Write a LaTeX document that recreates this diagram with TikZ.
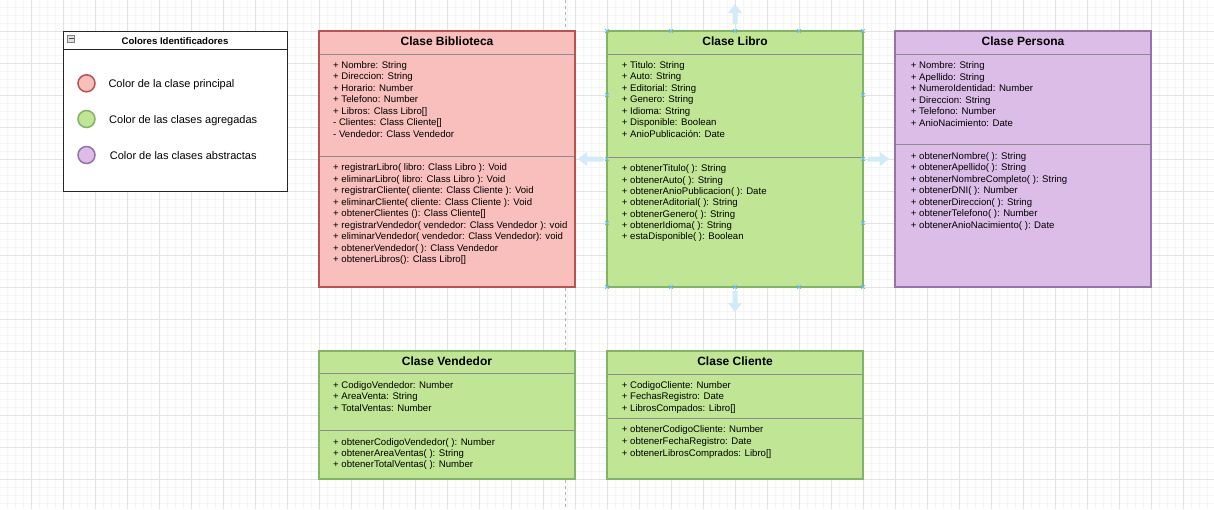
\documentclass[tikz,border=0pt]{standalone}
\usepackage{fontspec}
\setmainfont{Liberation Sans}
\definecolor{redF}{HTML}{F8BFBC}
\definecolor{redS}{HTML}{B85450}
\definecolor{grnF}{HTML}{C0E594}
\definecolor{grnS}{HTML}{82B366}
\definecolor{purF}{HTML}{DCBDE8}
\definecolor{purS}{HTML}{9673A6}
\definecolor{gridMaj}{HTML}{E3E3E3}
\definecolor{gridMin}{HTML}{F5F5F5}
\definecolor{sepC}{HTML}{8C8C8C}
\definecolor{hoverC}{HTML}{D2EBF9}
\definecolor{handleC}{HTML}{5CC3F2}
\newcommand\umlLines[5]{% x, first centre y, step, prefix, list
  \foreach \t [count=\i] in {#5} {\node[txt] (#4\i) at (#1,{#2+3.5+(\i-1)*#3}) {\t};}}
\begin{document}
\begin{tikzpicture}[x=1pt,y=-1pt,
  txt/.style={inner sep=0, anchor=base west, font=\fontsize{9.6}{11}\selectfont},
  ttl/.style={inner sep=0, anchor=base, font=\fontsize{12}{14}\selectfont\bfseries},
  boxbase/.style={inner sep=0, outer sep=0, anchor=north west, line width=1.5pt,
    minimum width=256, minimum height=256},
  redbox/.style={boxbase, draw=redS, fill=redF},
  grnbox/.style={boxbase, draw=grnS, fill=grnF},
  purbox/.style={boxbase, draw=purS, fill=purF},
  sepline/.style={draw=sepC, line width=1pt},
  legcirc/.style={circle, minimum size=17, inner sep=0, line width=1.5pt},
  legtxt/.style={inner sep=0, anchor=base west, font=\fontsize{11}{13}\selectfont},
  hover/.style={fill=hoverC},
  handle/.style={draw=handleC, line width=0.8pt}
]
\useasboundingbox (0,0) rectangle (1214,509);
\fill[white] (0,0) rectangle (1214,509);
% grid
\foreach \x in {7,15,...,1214} \draw[gridMin, line width=1pt] (\x,0) -- (\x,509);
\foreach \y in {7,15,...,509} \draw[gridMin, line width=1pt] (0,\y) -- (1214,\y);
\foreach \x in {31,63,...,1214} \draw[gridMaj, line width=1pt] (\x,0) -- (\x,509);
\foreach \y in {31,63,...,509} \draw[gridMaj, line width=1pt] (0,\y) -- (1214,\y);
% guide line
\draw[black!30, line width=1pt, dash pattern=on 3pt off 3pt] (565,0) -- (565,509);

% ---------- legend ----------
\node[draw=black!85, fill=white, line width=1pt, inner sep=0, anchor=north west,
  minimum width=224, minimum height=160] (leg) at (63,31) {};
\draw[black!85, line width=1pt] (63,49) -- (287,49);
\node[draw=black!50, fill=black!12, inner sep=0, minimum size=7, line width=0.6pt] (legicon) at (71,38.5) {};
\draw[black!70, line width=0.8pt] (68.5,38.5) -- (73.5,38.5);
\node[inner sep=0, anchor=base, font=\fontsize{9.6}{11}\selectfont\bfseries] (legT) at (175,44) {Colores Identificadores};
\node[legcirc, draw=redS, fill=redF] (c1) at (86.5,83.3) {};
\node[legcirc, draw=grnS, fill=grnF] (c2) at (86.5,119) {};
\node[legcirc, draw=purS, fill=purF] (c3) at (86.5,155) {};
\node[legtxt] (l1) at (108.3,87.3) {Color de la clase principal};
\node[legtxt] (l2) at (109,123) {Color de las clases agregadas};
\node[legtxt] (l3) at (109.7,159) {Color de las clases abstractas};

% ---------- Clase Biblioteca ----------
\node[redbox] (bib) at (319,31) {};
\node[ttl] (bibT) at (447,45) {Clase Biblioteca};
\draw[sepline] (320,54) -- (574,54);
\draw[sepline] (320,156) -- (574,156);
\umlLines{333}{65}{11.45}{ba}{{+ Nombre: String},{+ Direccion: String},{+ Horario: Number},{+ Telefono: Number},{+ Libros: Class Libro[]},{- Clientes: Class Cliente[]},{- Vendedor: Class Vendedor}}
\umlLines{333}{167.3}{11.5}{bm}{{+ registrarLibro( libro: Class Libro ): Void},{+ eliminarLibro( libro: Class Libro ): Void},{+ registrarCliente( cliente: Class Cliente ): Void},{+ eliminarCliente( cliente: Class Cliente ): Void},{+ obtenerClientes (): Class Cliente[]},{+ registrarVendedor( vendedor: Class Vendedor ): void},{+ eliminarVendedor( vendedor: Class Vendedor): void},{+ obtenerVendedor( ): Class Vendedor},{+ obtenerLibros(): Class Libro[]}}

% ---------- Clase Libro ----------
\node[grnbox] (lib) at (607,31) {};
\node[ttl] (libT) at (735,45) {Clase Libro};
\draw[sepline] (608,54) -- (862,54);
\draw[sepline] (608,157) -- (862,157);
\umlLines{621.7}{64.8}{11.5}{la}{{+ Titulo: String},{+ Auto: String},{+ Editorial: String},{+ Genero: String},{+ Idioma: String},{+ Disponible: Boolean},{+ AnioPublicación: Date}}
\umlLines{621.7}{168.3}{11.35}{lm}{{+ obtenerTitulo( ): String},{+ obtenerAuto( ): String},{+ obtenerAnioPublicacion( ): Date},{+ obtenerAditorial( ): String},{+ obtenerGenero( ): String},{+ obtenerIdioma( ): String},{+ estaDisponible( ): Boolean}}

% ---------- Clase Persona ----------
\node[purbox] (per) at (895,31) {};
\node[ttl] (perT) at (1023,45) {Clase Persona};
\draw[sepline] (896,54) -- (1150,54);
\draw[sepline] (896,144) -- (1150,144);
\umlLines{910.7}{65}{11.5}{pa}{{+ Nombre: String},{+ Apellido: String},{+ NumeroIdentidad: Number},{+ Direccion: String},{+ Telefono: Number},{+ AnioNacimiento: Date}}
\umlLines{910.7}{155.7}{11.55}{pm}{{+ obtenerNombre( ): String},{+ obtenerApellido( ): String},{+ obtenerNombreCompleto( ): String},{+ obtenerDNI( ): Number},{+ obtenerDireccion( ): String},{+ obtenerTelefono( ): Number},{+ obtenerAnioNacimiento( ): Date}}

% ---------- Clase Vendedor ----------
\node[grnbox, minimum height=128] (ven) at (319,351) {};
\node[ttl] (venT) at (447,365) {Clase Vendedor};
\draw[sepline] (320,373.5) -- (574,373.5);
\draw[sepline] (320,430) -- (574,430);
\umlLines{333}{385}{11.4}{va}{{+ CodigoVendedor: Number},{+ AreaVenta: String},{+ TotalVentas: Number}}
\umlLines{333}{441.7}{11.2}{vm}{{+ obtenerCodigoVendedor( ): Number},{+ obtenerAreaVentas( ): String},{+ obtenerTotalVentas( ): Number}}

% ---------- Clase Cliente ----------
\node[grnbox, minimum height=128] (cli) at (607,351) {};
\node[ttl] (cliT) at (735,365) {Clase Cliente};
\draw[sepline] (608,374) -- (862,374);
\draw[sepline] (608,418) -- (862,418);
\umlLines{621.7}{385}{11.4}{ca}{{+ CodigoCliente: Number},{+ FechasRegistro: Date},{+ LibrosCompados: Libro[]}}
\umlLines{621.7}{429.3}{11.7}{cm}{{+ obtenerCodigoCliente: Number},{+ obtenerFechaRegistro: Date},{+ obtenerLibrosComprados: Libro[]}}

% ---------- hover arrows round Clase Libro ----------
\fill[hover] (735,4) -- (742,13) -- (737.5,13) -- (737.5,24) -- (732.5,24) -- (732.5,13) -- (728,13) -- cycle;
\fill[hover] (735,312) -- (742,303) -- (737.5,303) -- (737.5,291) -- (732.5,291) -- (732.5,303) -- (728,303) -- cycle;
\fill[hover] (578,159) -- (587,152) -- (587,156.5) -- (603,156.5) -- (603,161.5) -- (587,161.5) -- (587,166) -- cycle;
\fill[hover] (889,159) -- (880,152) -- (880,156.5) -- (868,156.5) -- (868,161.5) -- (880,161.5) -- (880,166) -- cycle;
% selection handles
\foreach \hx in {607,671,735,799,863} {
  \draw[handle] (\hx-1.8,29.2) -- (\hx+1.8,32.8) (\hx-1.8,32.8) -- (\hx+1.8,29.2);
  \draw[handle] (\hx-1.8,285.2) -- (\hx+1.8,288.8) (\hx-1.8,288.8) -- (\hx+1.8,285.2);}
\foreach \hy in {95,159,223} {
  \draw[handle] (605.2,\hy-1.8) -- (608.8,\hy+1.8) (605.2,\hy+1.8) -- (608.8,\hy-1.8);
  \draw[handle] (861.2,\hy-1.8) -- (864.8,\hy+1.8) (861.2,\hy+1.8) -- (864.8,\hy-1.8);}
\end{tikzpicture}
\end{document}
